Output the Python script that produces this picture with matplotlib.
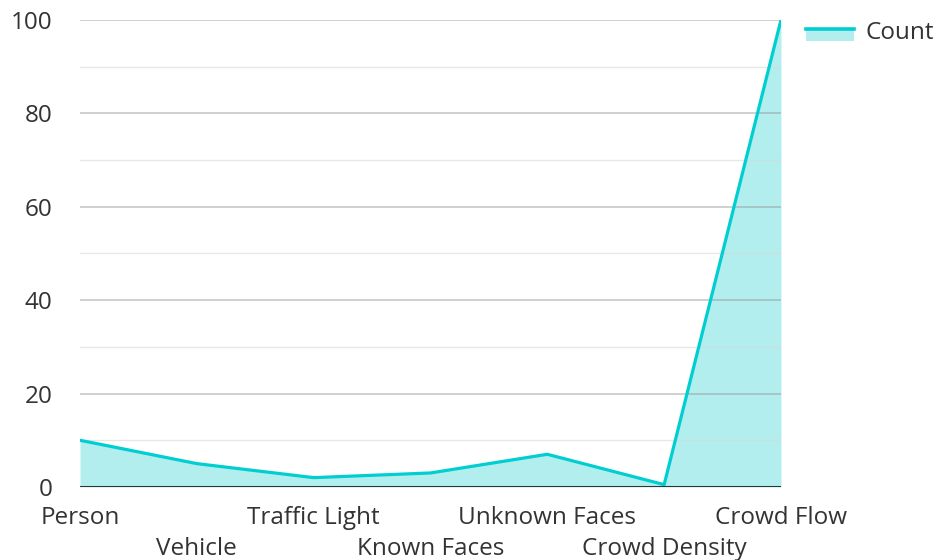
import matplotlib.pyplot as plt
from matplotlib.legend_handler import HandlerBase
from matplotlib.patches import Rectangle
from matplotlib.lines import Line2D

plt.rcParams['font.family'] = ['Open Sans', 'DejaVu Sans']

categories = ['Person', 'Vehicle', 'Traffic Light', 'Known Faces',
              'Unknown Faces', 'Crowd Density', 'Crowd Flow']
counts = [10, 5, 2, 3, 7, 0.5, 100]

line_color = '#00CED1'
fill_color = '#B2EEEE'
text_color = '#333333'
fs = 17.5


class AreaHandler(HandlerBase):
    # thick line on top of a filled block, like the area series itself
    def create_artists(self, legend, orig_handle, xdescent, ydescent,
                       width, height, fontsize, trans):
        mid = height / 2 - ydescent
        top = mid + 0.8
        rect = Rectangle((-xdescent, top - 8.6), width, 8.6,
                         facecolor=fill_color, edgecolor='none', transform=trans)
        ln = Line2D([-xdescent, -xdescent + width], [top, top],
                    color=line_color, lw=2.6, transform=trans)
        return [rect, ln]


fig = plt.figure(figsize=(9.39, 5.6), dpi=100)
ax = fig.add_axes([0.0852, 0.1304, 0.7465, 0.8339])

x = list(range(len(categories)))
ax.fill_between(x, counts, 0, color=fill_color, lw=0, zorder=1)
ax.plot(x, counts, color=line_color, lw=2.3, zorder=3, solid_joinstyle='round')

ax.set_xlim(0, len(categories) - 1)
ax.set_ylim(0, 100)

# light minor lines every 10, darker major lines every 20
for v in range(10, 100, 20):
    ax.axhline(v, color='#d8d8d8', lw=1, alpha=0.6, zorder=2)
for v in range(20, 101, 20):
    ax.axhline(v, color='#999999', lw=1.2, alpha=0.55, zorder=2)
ax.axhline(0, color=text_color, lw=2.2, zorder=4)

for s in ax.spines.values():
    s.set_visible(False)

ax.set_yticks(range(0, 101, 20))
ax.tick_params(axis='y', length=0, pad=20, labelsize=fs, labelcolor=text_color)
ax.set_xticks(x)
ax.set_xticklabels([])
ax.tick_params(axis='x', length=0)

# category labels staggered on two rows
for i, name in enumerate(categories):
    ax.annotate(name, xy=(i, 0), xycoords=('data', 'axes fraction'),
                xytext=(0, -31 if i % 2 == 0 else -62), textcoords='offset pixels',
                ha='center', va='center', fontsize=fs, color=text_color)

proxy = Rectangle((0, 0), 1, 1)
fig.legend([proxy], ['Count'], handler_map={Rectangle: AreaHandler()},
           loc='center left', bbox_to_anchor=(0.858, 0.943),
           frameon=False, fontsize=fs, handlelength=2.0, handleheight=1.0,
           handletextpad=0.45, borderaxespad=0, borderpad=0,
           labelcolor=text_color)

fig.savefig('out.png', dpi=100)
